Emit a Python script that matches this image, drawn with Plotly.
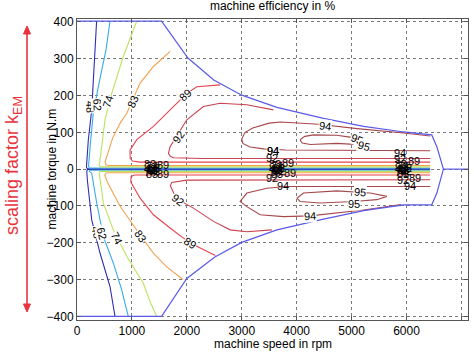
import plotly.graph_objects as go

# ---------------- data ----------------
# operating-range boundary (max torque envelope), speed in rpm, torque in N.m
BND_SPEED = [0, 1540, 2020, 2490, 3000, 3640, 4490, 5220, 5950, 6460, 6553, 6672,
             6553, 6460, 5950, 5220, 4490, 3640, 3000, 2510, 2000, 1540, 0]
BND_TORQUE = [402, 402, 302, 242, 201, 168, 138, 116, 101, 93, 61, 0,
              -65, -97, -97, -113, -136, -165, -199, -239, -297, -400, -400]
ZERO_SPEED = [6672, 7120]
ZERO_TORQUE = [0, 0]

# efficiency contour lines (upper = motoring, lower = generating)
C48_UP_S = [357, 315, 268, 206, 188, 172, 185, 6430]
C48_UP_T = [402, 279, 161, 79, 25, 6, 1, 1]
C48_LO_S = [692, 601, 419, 268, 188, 178, 190, 6430]
C48_LO_T = [-400, -319, -228, -138, -29, -6, -1, -1]

C62_UP_S = [601, 528, 388, 297, 250, 224, 210, 225, 6430]
C62_UP_T = [402, 324, 224, 152, 80, 25, 8, 3, 3]
C62_LO_S = [934, 814, 661, 479, 359, 268, 225, 235, 6430]
C62_LO_T = [-400, -328, -255, -183, -92, -11, -6, -3, -3]

C74_UP_S = [1087, 843, 632, 510, 450, 419, 405, 425, 6430]
C74_UP_T = [402, 306, 206, 134, 61, 20, 10, 6, 6]
C74_LO_S = [1452, 1329, 1208, 905, 661, 479, 439, 405, 415, 6430]
C74_LO_T = [-400, -360, -310, -237, -165, -92, -47, -13, -6, -6]

C83_UP_S = [1696, 1392, 1149, 907, 785, 650, 561, 510, 525, 570, 6430]
C83_UP_T = [320, 279, 234, 152, 125, 85, 43, 20, 12, 10, 10]
C83_LO_S = [1930, 1630, 1390, 1150, 785, 621, 561, 505, 525, 570, 6430]
C83_LO_T = [-300, -265, -228, -179, -101, -56, -38, -16, -11, -10, -10]

C89_UP_S = [2607, 2182, 2000, 1696, 1392, 1089, 967, 967, 1010, 1149, 6430]
C89_UP_T = [229, 224, 206, 161, 116, 80, 52, 30, 22, 19, 19]
C89_LO_S = [2520, 2242, 2060, 1694, 1392, 1149, 980, 985, 1050, 6430]
C89_LO_T = [-235, -215, -201, -160, -124, -79, -35, -20, -16, -16]

C92_UP_S = [3577, 3395, 3092, 2607, 2302, 2000, 1847, 1696, 1665, 1700, 1756, 2302, 6430]
C92_UP_T = [161, 166, 175, 179, 170, 134, 98, 61, 43, 35, 31, 29, 29]
C92_LO_S = [3550, 3335, 3092, 2789, 2485, 2120, 1845, 1760, 1700, 1725, 2000, 6430]
C92_LO_T = [-165, -168, -170, -165, -142, -106, -83, -65, -45, -36, -30, -29]

C94_UP_S = [6430, 5950, 5100, 4400, 3700, 3500, 3200, 3060, 3000, 3020, 3150, 3400, 3800, 6430]
C94_UP_T = [90, 98, 110, 122, 128, 125, 112, 100, 82, 70, 60, 55, 52, 50]
C94_LO_S = [6430, 3800, 3457, 3093, 2971, 3093, 3335, 3760, 4245, 4732, 5217, 5900]
C94_LO_T = [-47, -47, -52, -65, -88, -102, -124, -129, -127, -120, -111, -96]

C95_UP_S = [4060, 4150, 4310, 4730, 4970, 5150, 5260, 5150, 4970, 4730, 4250, 4100, 4060]
C95_UP_T = [80, 89, 93, 92, 87, 80, 72, 68, 68, 70, 67, 71, 80]
C95_LO_S = [4003, 4124, 4732, 5338, 5643, 5461, 5035, 4427, 4063, 4003]
C95_LO_T = [-79, -65, -59, -65, -74, -83, -88, -92, -88, -79]

LEVELS = [48, 62, 74, 83, 89, 92, 94, 95]
LEVEL_COLORS = ["#2e2eb4", "#38aaea", "#bde25e", "#f4a14e", "#e8434d", "#c8424f", "#a8464b", "#a44a4c"]
BOUNDARY_COLOR = "#5a5ae8"

# contour labels: text, speed, torque, angle, white background
LBL_TEXT = ["48", "62", "74", "83", "48", "62", "74", "83",
            "89", "92", "89", "92", "94", "94", "95", "95", "94", "95", "95",
            "89", "89", "94", "92", "89", "89", "92", "94",
            "94", "92", "89", "89", "92", "94"]
LBL_SPEED = [250, 372, 571, 1027, 359, 450, 725, 1149,
             1969, 1845, 2060, 1845, 4517, 3560, 5097, 5230, 4245, 5157, 5035,
             1574, 1574, 3560, 3550, 3850, 3880, 3550, 3760,
             5885, 5885, 6128, 6158, 5945, 6067]
LBL_TORQUE = [170, 174, 184, 184, -170, -174, -187, -183,
              202, 88, -201, -83, 116, 50, 82, 64, -127, -61, -95,
              12, -14, 50, 30, 16, -11, -25, -45,
              43, 27, 23, -25, -29, -47]
LBL_ANGLE = [88, 88, -72, -66, 76, 76, 63, 54,
             -42, -55, 34, 38, 6, 0, 22, 15, -3, 5, 0,
             0, 0, 0, 0, 0, 0, 0, 0,
             0, 0, 0, 0, 0, 0]
LBL_BG = [True] * 19 + [False] * 14

# overlapping label clusters on the zero-torque bundle
BLOB_SPEED = [1362, 3640, 5945]
BLOB_TEXT = ["83", "74", "62", "48", "48", "62", "74", "83"]
BLOB_TORQUE = [13, 8, 4, 1, -2, -5, -9, -13]

# ---------------- figure ----------------
fig = go.Figure()

contours = [
    (48, C48_UP_S, C48_UP_T), (48, C48_LO_S, C48_LO_T),
    (62, C62_UP_S, C62_UP_T), (62, C62_LO_S, C62_LO_T),
    (74, C74_UP_S, C74_UP_T), (74, C74_LO_S, C74_LO_T),
    (83, C83_UP_S, C83_UP_T), (83, C83_LO_S, C83_LO_T),
    (89, C89_UP_S, C89_UP_T), (89, C89_LO_S, C89_LO_T),
    (92, C92_UP_S, C92_UP_T), (92, C92_LO_S, C92_LO_T),
    (94, C94_UP_S, C94_UP_T), (94, C94_LO_S, C94_LO_T),
    (95, C95_UP_S, C95_UP_T), (95, C95_LO_S, C95_LO_T),
]
for lvl, s, t in contours:
    col = LEVEL_COLORS[LEVELS.index(lvl)]
    fig.add_trace(go.Scatter(x=s, y=t, mode="lines",
                             line=dict(color=col, width=1.1),
                             hoverinfo="skip", showlegend=False))

fig.add_trace(go.Scatter(x=BND_SPEED, y=BND_TORQUE, mode="lines",
                         line=dict(color=BOUNDARY_COLOR, width=1.2),
                         hoverinfo="skip", showlegend=False))
fig.add_trace(go.Scatter(x=ZERO_SPEED, y=ZERO_TORQUE, mode="lines",
                         line=dict(color=BOUNDARY_COLOR, width=1.2),
                         hoverinfo="skip", showlegend=False))

FONT = "Liberation Sans, Arial, sans-serif"
annotations = []
for txt, s, t, a, bg in zip(LBL_TEXT, LBL_SPEED, LBL_TORQUE, LBL_ANGLE, LBL_BG):
    annotations.append(dict(x=s, y=t, xref="x", yref="y", text=txt, showarrow=False,
                            textangle=a, font=dict(family=FONT, size=11, color="black"),
                            bgcolor="white" if bg else None, borderpad=0,
                            xanchor="center", yanchor="middle"))
for bs in BLOB_SPEED:
    for i, (txt, t) in enumerate(zip(BLOB_TEXT, BLOB_TORQUE)):
        annotations.append(dict(x=bs + (i % 3 - 1) * 40, y=t, xref="x", yref="y", text=txt,
                                showarrow=False,
                                font=dict(family=FONT, size=11, color="black"),
                                xanchor="center", yanchor="middle"))

# layout geometry (pixels)
W, H = 474, 352
L, R, T, B = 77, 6, 19, 32
PW, PH = W - L - R, H - T - B

def px_x(px):
    return (px - L) / PW

def px_y(py):
    return (H - B - py) / PH

# axis titles
annotations.append(dict(x=0.5, y=px_y(344), xref="paper", yref="paper",
                        text="machine speed in rpm", showarrow=False,
                        font=dict(family=FONT, size=12, color="black"),
                        xanchor="center", yanchor="middle"))
annotations.append(dict(x=px_x(51), y=0.5, xref="paper", yref="paper",
                        text="machine torque in N.m", showarrow=False, textangle=-90,
                        font=dict(family=FONT, size=12, color="black"),
                        xanchor="center", yanchor="middle"))
# red scaling factor label
RED = "#e8333d"
annotations.append(dict(x=px_x(13), y=px_y(166), xref="paper", yref="paper",
                        text="scaling factor k<sub>EM</sub>", showarrow=False, textangle=-90,
                        font=dict(family=FONT, size=18, color=RED),
                        xanchor="center", yanchor="middle"))

shapes = [
    dict(type="line", xref="paper", yref="paper", x0=px_x(27), x1=px_x(27),
         y0=px_y(306), y1=px_y(32), line=dict(color=RED, width=1.6)),
    dict(type="path", xref="paper", yref="paper",
         path=f"M {px_x(23.5)} {px_y(34)} L {px_x(30.5)} {px_y(34)} L {px_x(27)} {px_y(26)} Z",
         fillcolor=RED, line=dict(color=RED, width=1)),
    dict(type="path", xref="paper", yref="paper",
         path=f"M {px_x(23.5)} {px_y(304)} L {px_x(30.5)} {px_y(304)} L {px_x(27)} {px_y(312)} Z",
         fillcolor=RED, line=dict(color=RED, width=1)),
]

axis_common = dict(showgrid=True, gridcolor="#7a7a7a", griddash="dot", gridwidth=1,
                   zeroline=False, showline=True, linecolor="#555555", linewidth=1,
                   mirror="ticks", ticks="inside", ticklen=4, tickcolor="#555555",
                   tickfont=dict(family=FONT, size=12, color="black"))

fig.update_layout(
    width=W, height=H,
    margin=dict(l=L, r=R, t=T, b=B, pad=0),
    paper_bgcolor="white", plot_bgcolor="white",
    title=dict(text="machine efficiency in %", x=(L + PW / 2) / W, xanchor="center",
               y=1 - 6 / H, yanchor="middle",
               font=dict(family=FONT, size=12, color="black")),
    xaxis=dict(range=[0, 7120], tickvals=[0, 1000, 2000, 3000, 4000, 5000, 6000, 7000],
               **axis_common),
    yaxis=dict(range=[-410, 408], tickvals=[-400, -300, -200, -100, 0, 100, 200, 300, 400],
               **axis_common),
    annotations=annotations, shapes=shapes,
)

fig.write_html("out.html")
